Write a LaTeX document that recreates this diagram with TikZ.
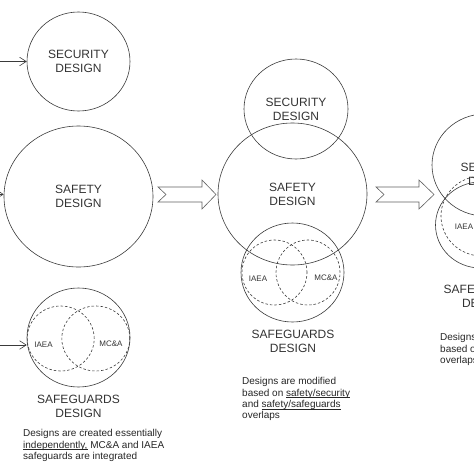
\documentclass[tikz,border=0pt]{standalone}
\usepackage{fontspec}
\setmainfont{Liberation Sans}
\usepackage{xcolor}
\usepackage{tikz}
\usetikzlibrary{shapes.geometric}
\usetikzlibrary{arrows.meta}
\definecolor{inkline}{HTML}{3A3A3A}
\definecolor{inktext}{HTML}{333333}
\newcommand{\uline}[1]{\underline{\smash{#1}}}

\begin{document}
\begin{tikzpicture}[x=1pt,y=-1pt,
    ring/.style={draw=inkline,line width=0.6pt,ellipse,inner sep=0pt,
      text=inktext,align=center,font=\fontsize{12}{14}\selectfont},
    subring/.style={draw=inkline,line width=0.6pt,dash pattern=on 2.5pt off 2pt,
      ellipse,inner sep=0pt},
    lbl/.style={text=inktext,align=center,inner sep=0pt,font=\fontsize{12}{14}\selectfont},
    tag/.style={text=inktext,inner sep=0pt,font=\fontsize{8}{9}\selectfont},
    note/.style={text=black!85,align=left,inner sep=0pt,anchor=north west,
      font=\fontsize{10}{11.3}\selectfont},
    feed/.style={draw=inkline,line width=0.6pt,-{Straight Barb[length=6.5pt,width=8.5pt]}},
    blockarrow/.style={draw=inkline!80,line width=0.6pt,line join=miter}]
    \useasboundingbox (0,0) rectangle (474,474);
    \clip (0,0) rectangle (474,474);
    % separate designs
    \node[ring,minimum width=103,minimum height=99] (sec1) at (78.5,61.5) {SECURITY\\DESIGN};
    \node[ring,minimum width=149,minimum height=141] (sfy1) at (78.5,196.5) {SAFETY\\DESIGN};
    \node[ring,minimum width=103,minimum height=99] (sg1) at (78.5,337.5) {};
    \node[subring,minimum width=67,minimum height=65] (iaea1) at (60.7,338.5) {};
    \node[subring,minimum width=68,minimum height=65] (mca1) at (95.8,338.5) {};
    \node[tag] (iaeatxt1) at (43.5,345) {IAEA};
    \node[tag] (mcatxt1) at (111,344) {MC\&A};
    \node[lbl] (sglbl1) at (78.5,406.5) {SAFEGUARDS\\DESIGN};
    \node[note] (cap1) at (23,429.5) {Designs are created essentially\\
      \uline{independently,} MC\&A and IAEA\\safeguards are integrated};
    \coordinate (src1) at (-10,61.5);
    \coordinate (src2) at (-10,194.3);
    \coordinate (src3) at (-10,345);
    \draw[feed] (src1) -- (src1 -| sec1.west);
    \draw[feed] (src2) -- (src2 -| sfy1.west);
    \draw[feed] (src3) -- (src3 -| sg1.west);
    % first step
    \coordinate (step1) at (158,194.5);
    \begin{scope}[shift={(step1)}]
      \draw[blockarrow] (0,-7.5) -- (44,-7.5) -- (44,-14.5) -- (58,0) -- (44,14.5)
        -- (44,7.5) -- (0,7.5) -- (8,0) -- cycle;
    \end{scope}
    % modified designs
    \node[ring,minimum width=104,minimum height=100] (sec2) at (296,109) {SECURITY\\DESIGN};
    \node[ring,minimum width=149,minimum height=142] (sfy2) at (292.5,194) {SAFETY\\DESIGN};
    \node[ring,minimum width=103,minimum height=99] (sg2) at (292.5,272.5) {};
    \node[subring,minimum width=65,minimum height=65] (iaea2) at (274.5,272.5) {};
    \node[subring,minimum width=64,minimum height=65] (mca2) at (308,272.5) {};
    \node[tag] (iaeatxt2) at (258,279) {IAEA};
    \node[tag] (mcatxt2) at (326,278) {MC\&A};
    \node[lbl] (sglbl2) at (293,341) {SAFEGUARDS\\DESIGN};
    \node[note] (cap2) at (242,377.5) {Designs are modified\\
      based on \uline{safety/security}\\and \uline{safety/safeguards}\\overlaps};
    % second step
    \coordinate (step2) at (376,194.5);
    \begin{scope}[shift={(step2)}]
      \draw[blockarrow] (0,-7.5) -- (43,-7.5) -- (43,-14.5) -- (58,0) -- (43,14.5)
        -- (43,7.5) -- (0,7.5) -- (8,0) -- cycle;
    \end{scope}
    % integrated designs
    \node[ring,minimum width=106,minimum height=102] (sec3) at (485,165) {};
    \node[ring,minimum width=90,minimum height=86] (sfy3) at (480.5,225) {};
    \node[subring,minimum width=82,minimum height=80] (iaea3) at (482,216) {};
    \node[lbl] (seclbl3) at (491,174.5) {SECURITY\\DESIGN};
    \node[tag] (iaeatxt3) at (464,227) {IAEA};
    \node[lbl] (sglbl3) at (485,296.5) {SAFEGUARDS\\DESIGN};
    \node[note] (cap3) at (440,333.5) {Designs are\\based on\\overlaps};
  \end{tikzpicture}
\end{document}
